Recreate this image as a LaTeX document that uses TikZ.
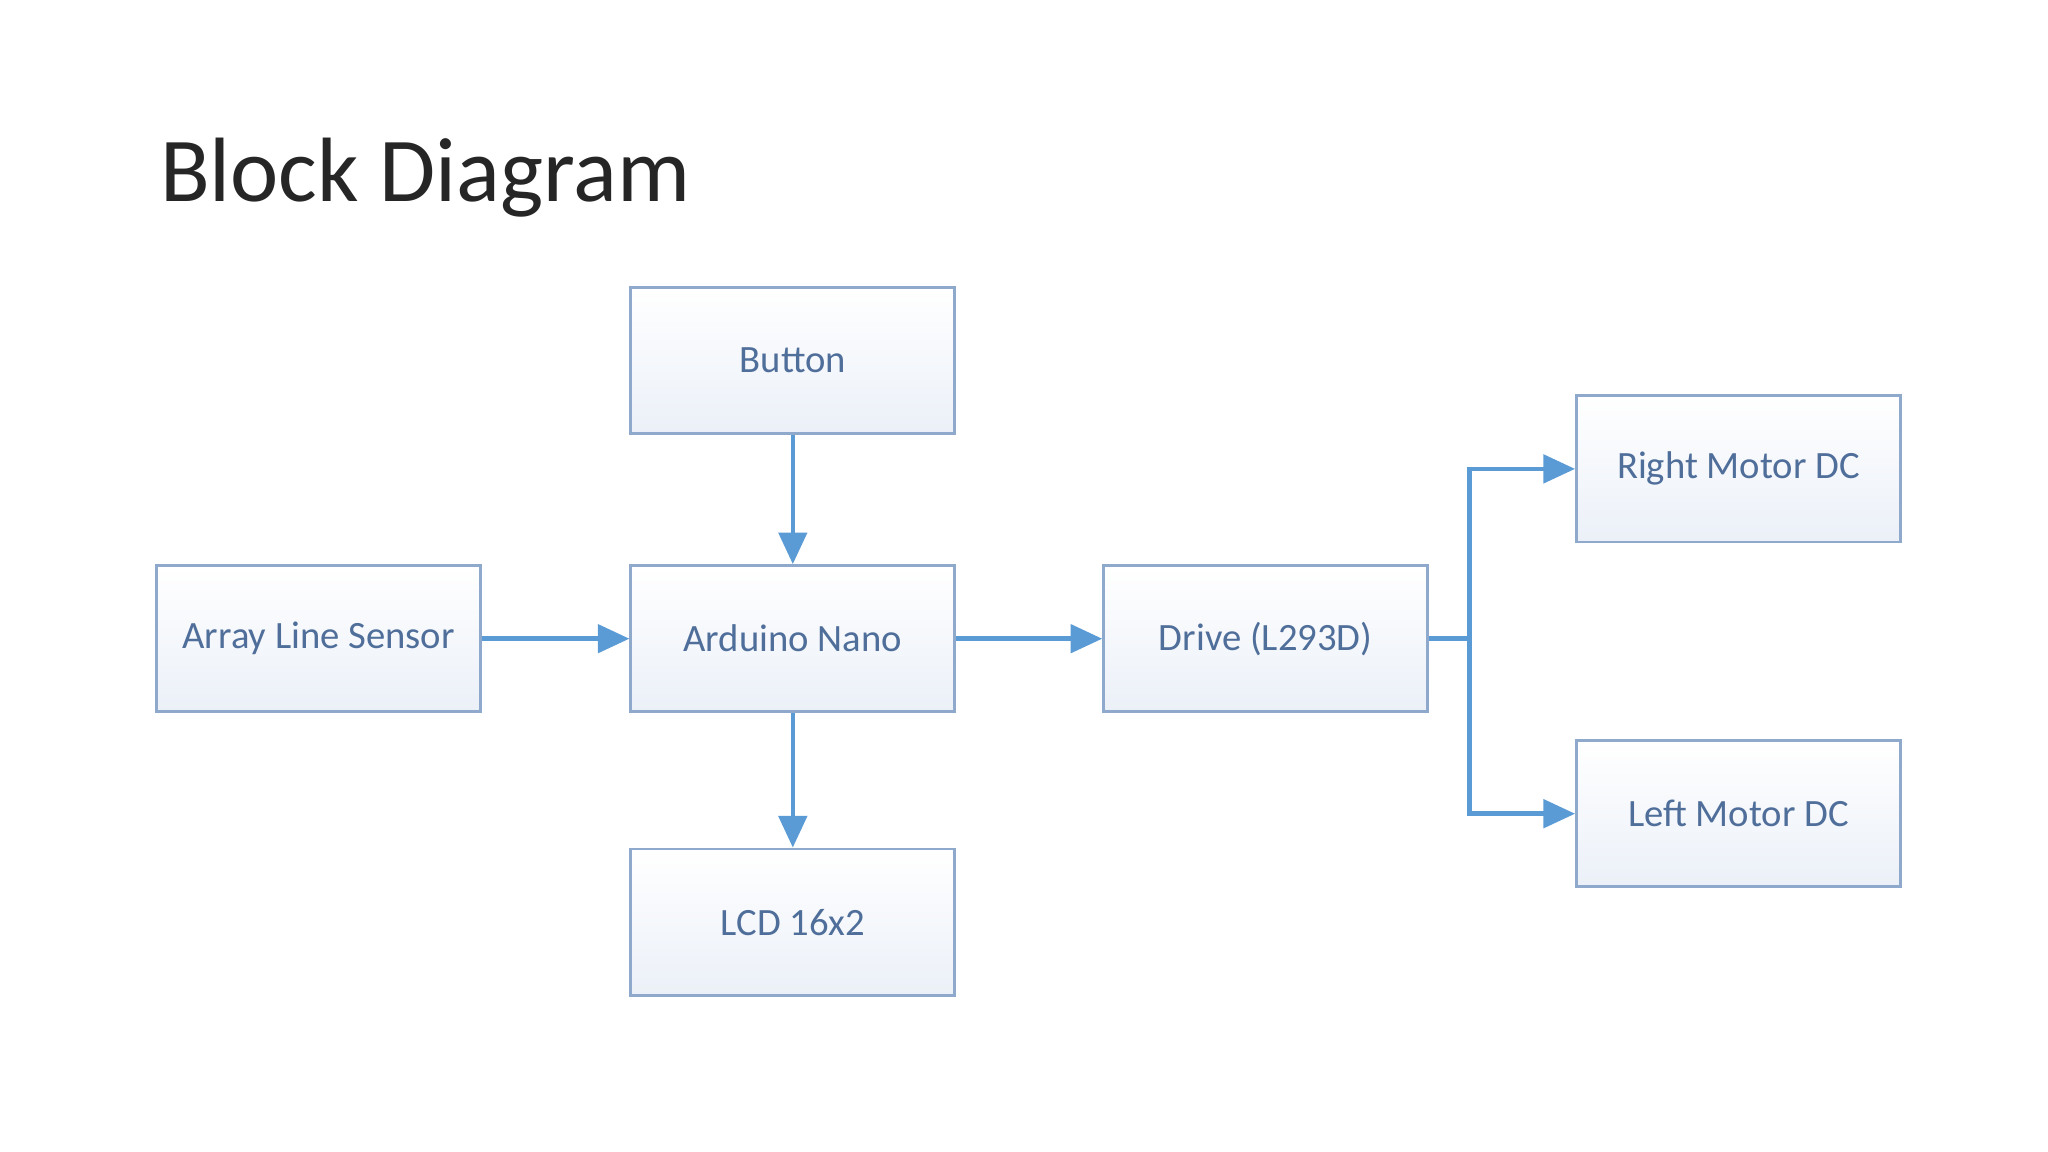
\documentclass[tikz,border=0pt]{standalone}
\usepackage{fontspec}
\setmainfont{Carlito}
\usetikzlibrary{arrows.meta}
\definecolor{boxline}{HTML}{8FA9CC}
\definecolor{boxtxt}{HTML}{4F6E9A}
\definecolor{arr}{HTML}{5B9BD5}
\definecolor{boxfill}{HTML}{EBF0F8}
\begin{document}
\begin{tikzpicture}[x=0.01306cm,y=-0.01306cm,
  blk/.style={draw=boxline,line width=0.8pt,top color=white,bottom color=boxfill,
    minimum width=248*0.01306cm,minimum height=112*0.01306cm,inner sep=0pt,
    text=boxtxt,font=\fontsize{11pt}{13pt}\selectfont},
  con/.style={draw=arr,line width=1.3pt,-{Triangle[length=9pt,width=8pt]}},
  lin/.style={draw=arr,line width=1.3pt}]
\useasboundingbox (0,0) rectangle (1568,882);
\node[anchor=base west,inner sep=0pt,font=\fontsize{26pt}{30pt}\selectfont,text=black!85] (title) at (122,154) {Block Diagram};
\node[blk] (btn) at (607,276) {Button};
\node[blk] (ard) at (607,489) {Arduino Nano};
\node[blk] (arr) at (244,489) {Array Line Sensor};
\node[blk] (drv) at (969,489) {Drive (L293D)};
\node[blk] (rm) at (1331,359) {Right Motor DC};
\node[blk] (lm) at (1331,623) {Left Motor DC};
\node[blk] (lcd) at (607,706) {LCD 16x2};
\coordinate (j) at (1125,489);
\draw[con] (btn) -- (ard);
\draw[con] (arr) -- (ard);
\draw[con] (ard) -- (drv);
\draw[con] (ard) -- (lcd);
\draw[lin] (drv) -- (j);
\draw[con] (j) |- (rm.west);
\draw[con] (j) |- (lm.west);
\end{tikzpicture}
\end{document}
